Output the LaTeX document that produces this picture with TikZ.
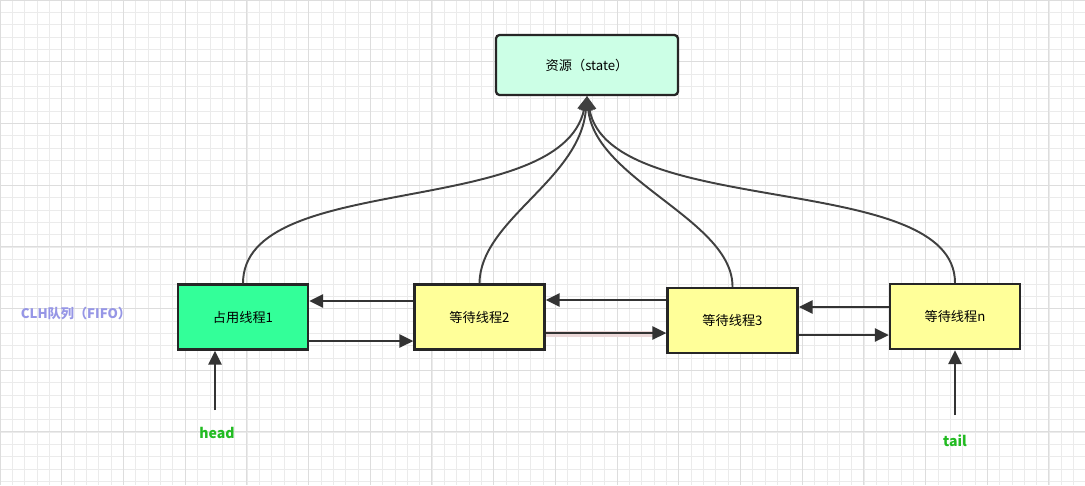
\documentclass[tikz,border=0pt]{standalone}
\usepackage{fontspec}
\setmainfont{Noto Sans CJK SC}
\usetikzlibrary{arrows.meta}
\definecolor{gridc}{HTML}{EBEBEB}
\definecolor{gridm}{HTML}{DDDDDD}
\begin{document}
\begin{tikzpicture}[x=0.02cm,y=-0.02cm,
  box/.style={draw=black!85,line width=1.3pt,minimum width=2.6cm,minimum height=1.3cm,inner sep=0pt,font=\fontsize{7.5pt}{9pt}\selectfont},
  arr/.style={draw=black!80,line width=1.4pt,-{Triangle[length=8pt,width=7.5pt]}},
  cur/.style={draw=black!75,line width=1.1pt,-{Triangle[length=8pt,width=7.5pt]}}]
\useasboundingbox (0,0) rectangle (1085,485);
\fill[white] (0,0) rectangle (1085,485);
\foreach \i in {0,...,88} \draw[gridc,line width=0.3pt] (\i*12.34,0) -- (\i*12.34,485);
\foreach \i in {0,...,40} \draw[gridc,line width=0.3pt] (0,\i*12.34) -- (1085,\i*12.34);
\foreach \i in {0,...,18} \draw[gridm,line width=0.5pt] (\i*61.7,0) -- (\i*61.7,485);
\foreach \i in {0,...,8} \draw[gridm,line width=0.5pt] (0,\i*61.7) -- (1085,\i*61.7);
\node[box,fill={rgb,255:red,204;green,255;blue,230},rounded corners=2pt,minimum width=3.64cm,minimum height=1.2cm] (st) at (587,65) {资源（state）};
\node[box,fill={rgb,255:red,51;green,255;blue,153}] (t1) at (243,317) {占用线程1};
\node[box,fill={rgb,255:red,255;green,255;blue,153}] (t2) at (479.5,317) {等待线程2};
\node[box,fill={rgb,255:red,255;green,255;blue,153}] (t3) at (732.5,320.5) {等待线程3};
\node[box,fill={rgb,255:red,255;green,255;blue,153}] (tn) at (955,316.5) {等待线程n};
\node[font=\bfseries\fontsize{7.5pt}{9pt}\selectfont,text={rgb,255:red,150;green,150;blue,230}] (clh) at (76,313) {CLH队列（FIFO）};
\node[font=\bfseries\fontsize{8pt}{9pt}\selectfont,text={rgb,255:red,34;green,187;blue,34}] (hd) at (217,433) {head};
\node[font=\bfseries\fontsize{8pt}{9pt}\selectfont,text={rgb,255:red,34;green,187;blue,34}] (tl) at (955,441) {tail};
\coordinate (h0) at (215,410);
\coordinate (tl0) at (955,415);
\draw[arr] (h0) -- (t1.south -| h0);
\draw[arr] (tl0) -- (tn.south -| tl0);
\draw[arr] (t2.west |- 0,301) -- (t1.east |- 0,301);
\draw[arr] (t1.east |- 0,341) -- (t2.west |- 0,341);
\draw[arr] (t3.west |- 0,300) -- (t2.east |- 0,300);
\draw[draw={rgb,255:red,235;green,215;blue,215},line width=3pt] (t2.east |- 0,334) -- (655,334);
\draw[arr] (t2.east |- 0,333) -- (t3.west |- 0,333);
\draw[arr] (tn.west |- 0,307) -- (t3.east |- 0,307);
\draw[arr] (t3.east |- 0,335) -- (tn.west |- 0,335);
\draw[cur] (t1.north) .. controls (243,170) and (560,220) .. (st.south);
\draw[cur] (t2.north) .. controls (480,220) and (580,180) .. (st.south);
\draw[cur] (t3.north) .. controls (733,220) and (595,180) .. (st.south);
\draw[cur] (tn.north) .. controls (955,170) and (610,220) .. (st.south);
\end{tikzpicture}
\end{document}
